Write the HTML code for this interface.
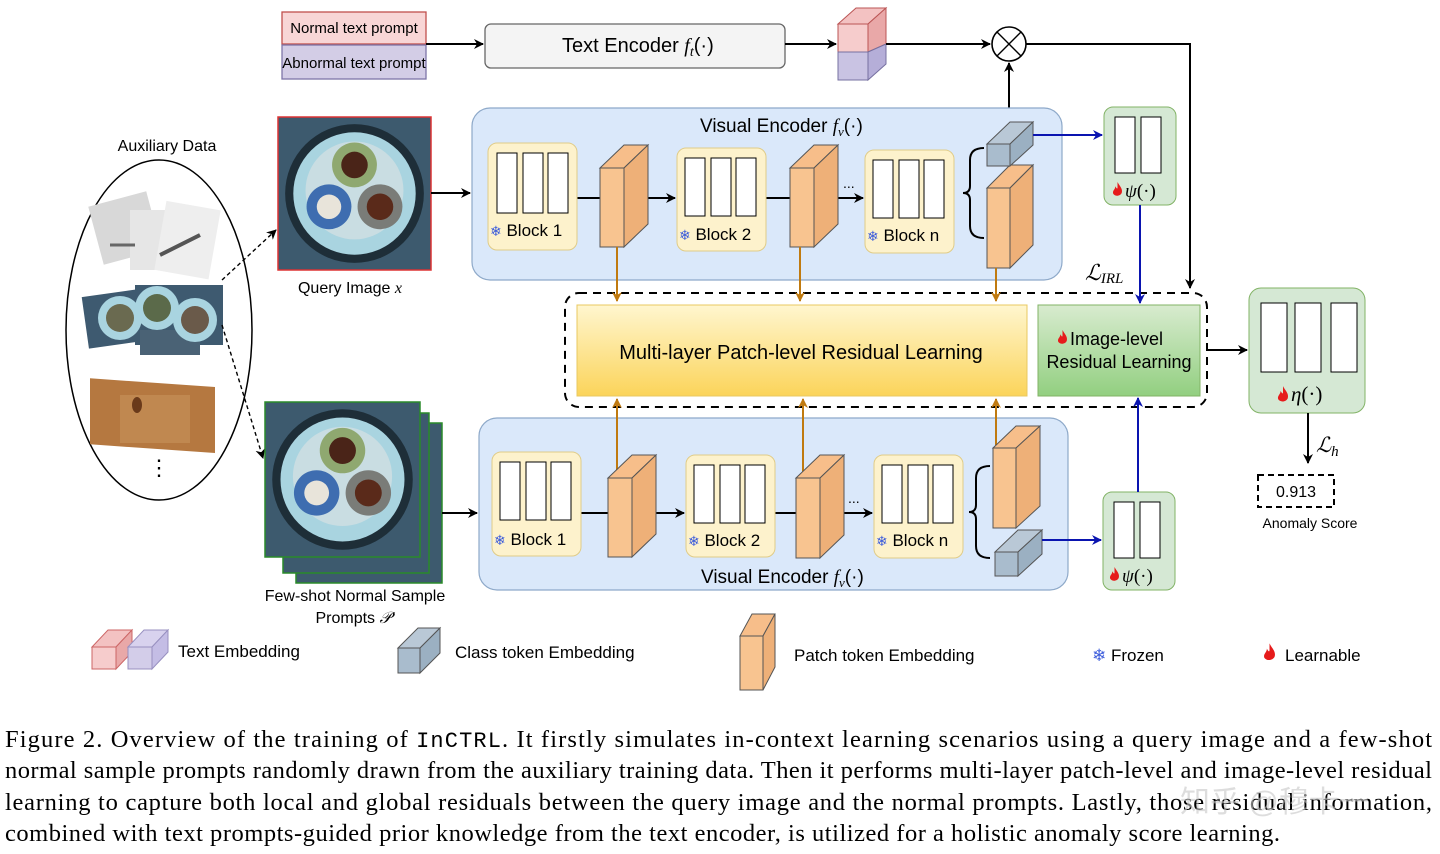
<!DOCTYPE html>
<html><head><meta charset="utf-8"><style>
html,body{margin:0;padding:0;background:#fff;width:1440px;height:854px;overflow:hidden}
svg text{font-family:"Liberation Sans",sans-serif}
.s{font-family:"Liberation Serif",serif;font-style:italic}
</style></head><body>
<svg width="1440" height="854" viewBox="0 0 1440 854" xmlns="http://www.w3.org/2000/svg">
<defs>
<marker id="ak" markerWidth="10" markerHeight="10" refX="9" refY="5" orient="auto" markerUnits="userSpaceOnUse"><path d="M0,0 L10,5 L0,10 L3,5 z" fill="#000"/></marker>
<marker id="ab" markerWidth="10" markerHeight="10" refX="9" refY="5" orient="auto" markerUnits="userSpaceOnUse"><path d="M0,0 L10,5 L0,10 L3,5 z" fill="#0a14b0"/></marker>
<marker id="ao" markerWidth="10" markerHeight="10" refX="9" refY="5" orient="auto" markerUnits="userSpaceOnUse"><path d="M0,0 L10,5 L0,10 L3,5 z" fill="#c07a10"/></marker>
<linearGradient id="gy" x1="0" y1="0" x2="0" y2="1"><stop offset="0" stop-color="#fff6cf"/><stop offset="1" stop-color="#fbd45a"/></linearGradient>
<linearGradient id="gg" x1="0" y1="0" x2="0" y2="1"><stop offset="0" stop-color="#d8ebcf"/><stop offset="1" stop-color="#92cf80"/></linearGradient>
<symbol id="cab" viewBox="0 0 150 150">
<rect width="150" height="150" fill="#3d5a6e"/>
<circle cx="75" cy="75" r="68" fill="#1e2e38"/>
<circle cx="75" cy="75" r="60" fill="#a9d4e0"/>
<circle cx="75" cy="72" r="48" fill="#c9dde2"/>
<circle cx="75" cy="47" r="22" fill="#8fa870"/><circle cx="75" cy="47" r="13" fill="#4a2418"/>
<circle cx="50" cy="88" r="22" fill="#3e6db0"/><circle cx="50" cy="88" r="12" fill="#e8e4da"/>
<circle cx="100" cy="88" r="22" fill="#7a7c78"/><circle cx="100" cy="88" r="13" fill="#5a2a1a"/>
</symbol>
<symbol id="fl" viewBox="0 0 10 14"><path d="M5,0 C7,4 10,6 9,10 C8,13 3,14 1,11 C0,8 3,7 3,4 C4,6 5,7 5,5 C5,3 5,2 5,0z" fill="#e61b1b"/></symbol>
</defs>

<!-- prompts -->
<rect x="282" y="12" width="144" height="32" fill="#f8d6d6" stroke="#c0504d" stroke-width="1.3"/>
<rect x="282" y="45" width="144" height="34" fill="#d3cde6" stroke="#7e76a8" stroke-width="1.3"/>
<text x="354" y="33" font-size="15" text-anchor="middle">Normal text prompt</text>
<text x="354" y="68" font-size="15" text-anchor="middle">Abnormal text prompt</text>
<line x1="426" y1="44" x2="483" y2="44" stroke="#000" stroke-width="2" marker-end="url(#ak)"/>
<rect x="485" y="24" width="300" height="44" rx="6" fill="#f4f4f4" stroke="#666" stroke-width="1.3"/>
<text x="562" y="52" font-size="20">Text Encoder <tspan class="s">f</tspan><tspan class="s" font-size="14" dy="4">t</tspan><tspan dy="-4">(·)</tspan></text>
<line x1="785" y1="44" x2="836" y2="44" stroke="#000" stroke-width="2" marker-end="url(#ak)"/>
<path d="M838,24 L856,8 L886,8 L868,24z" fill="#f3c2c2" stroke="#b55" stroke-width="1"/>
<path d="M868,24 L886,8 L886,44 L868,52z" fill="#e9a8a8" stroke="#b55" stroke-width="1"/>
<rect x="838" y="24" width="30" height="28" fill="#f6cccc" stroke="#b55" stroke-width="1"/>
<rect x="838" y="52" width="30" height="28" fill="#c9c3e3" stroke="#7670a0" stroke-width="1"/>
<path d="M868,52 L886,44 L886,64 L868,80z" fill="#b5aed8" stroke="#7670a0" stroke-width="1"/>
<line x1="886" y1="44" x2="990" y2="44" stroke="#000" stroke-width="2" marker-end="url(#ak)"/>
<circle cx="1009" cy="44" r="17" fill="#fff" stroke="#000" stroke-width="1.6"/>
<path d="M997,32 L1021,56 M1021,32 L997,56" stroke="#000" stroke-width="1.4"/>
<polyline points="1026,44 1190,44 1190,288" fill="none" stroke="#000" stroke-width="2" marker-end="url(#ak)"/>
<line x1="1009" y1="122" x2="1009" y2="63" stroke="#000" stroke-width="2" marker-end="url(#ak)"/>

<!-- left -->
<text x="167" y="151" font-size="16" text-anchor="middle">Auxiliary Data</text>
<ellipse cx="159" cy="330" rx="93" ry="170" fill="none" stroke="#000" stroke-width="1.5"/>
<g>
<rect x="95" y="198" width="60" height="60" fill="#d8d8d8" transform="rotate(-15 125 228)"/>
<rect x="130" y="210" width="55" height="60" fill="#e6e6e6"/>
<rect x="160" y="205" width="55" height="70" fill="#eeeeee" transform="rotate(10 187 240)"/>
<line x1="160" y1="255" x2="200" y2="235" stroke="#555" stroke-width="4"/>
<line x1="110" y1="245" x2="135" y2="245" stroke="#666" stroke-width="3"/>
</g>
<g>
<rect x="85" y="292" width="70" height="52" fill="#3e5a70" transform="rotate(-8 120 318)"/>
<rect x="135" y="285" width="88" height="60" fill="#3e5a70"/>
<rect x="140" y="330" width="60" height="25" fill="#4a6275"/>
<circle cx="120" cy="318" r="22" fill="#a9d4e0"/><circle cx="157" cy="308" r="22" fill="#a9d4e0"/><circle cx="195" cy="320" r="22" fill="#a9d4e0"/>
<circle cx="157" cy="308" r="14" fill="#5b6a4a"/><circle cx="195" cy="320" r="14" fill="#6a5a4a"/><circle cx="120" cy="318" r="14" fill="#6a6a50"/>
</g>
<g>
<rect x="90" y="372" width="125" height="66" fill="#b57840" transform="skewY(4)"/>
<rect x="120" y="395" width="70" height="48" fill="#c08850"/>
<ellipse cx="137" cy="405" rx="5" ry="8" fill="#6a3a1a"/>
</g>
<text x="159" y="475" font-size="22" text-anchor="middle">⋮</text>
<line x1="222" y1="280" x2="276" y2="230" stroke="#000" stroke-width="1.4" stroke-dasharray="4,3" marker-end="url(#ak)"/>
<line x1="222" y1="325" x2="263" y2="458" stroke="#000" stroke-width="1.4" stroke-dasharray="4,3" marker-end="url(#ak)"/>

<svg x="278" y="117" width="153" height="153"><use href="#cab" width="153" height="153"/></svg>
<rect x="278" y="117" width="153" height="153" fill="none" stroke="#d33" stroke-width="1.5"/>
<text x="350" y="293" font-size="16" text-anchor="middle">Query Image <tspan class="s">x</tspan></text>

<rect x="296" y="423" width="146" height="160" fill="#3d5a6e" stroke="#2a8a2a" stroke-width="1.5"/>
<rect x="283" y="413" width="146" height="160" fill="#3d5a6e" stroke="#2a8a2a" stroke-width="1.5"/>
<svg x="265" y="402" width="155" height="155"><use href="#cab" width="155" height="155"/></svg>
<rect x="265" y="402" width="155" height="155" fill="none" stroke="#2a8a2a" stroke-width="1.5"/>
<text x="355" y="601" font-size="16" text-anchor="middle">Few-shot Normal Sample</text>
<text x="355" y="623" font-size="16" text-anchor="middle">Prompts <tspan class="s">𝒫′</tspan></text>
<line x1="431" y1="193" x2="470" y2="193" stroke="#000" stroke-width="2" marker-end="url(#ak)"/>
<line x1="442" y1="513" x2="477" y2="513" stroke="#000" stroke-width="2" marker-end="url(#ak)"/>

<!-- top encoder -->
<rect x="472" y="108" width="590" height="172" rx="18" fill="#dae8fa" stroke="#8ea9c9" stroke-width="1.2"/>
<!-- bottom encoder bg -->
<rect x="479" y="418" width="589" height="172" rx="18" fill="#dae8fa" stroke="#8ea9c9" stroke-width="1.2"/>
<text x="700" y="132" font-size="19">Visual Encoder <tspan class="s">f</tspan><tspan class="s" font-size="13" dy="4">v</tspan><tspan dy="-4">(·)</tspan></text>
<g stroke="#000" stroke-width="2" fill="none">
<line x1="577" y1="198" x2="600" y2="198"/><line x1="648" y1="198" x2="675" y2="198" marker-end="url(#ak)"/>
<line x1="766" y1="198" x2="790" y2="198"/><line x1="837" y1="198" x2="863" y2="198" marker-end="url(#ak)"/>
<line x1="581" y1="513" x2="608" y2="513"/><line x1="655" y1="513" x2="684" y2="513" marker-end="url(#ak)"/>
<line x1="775" y1="513" x2="796" y2="513"/><line x1="843" y1="513" x2="872" y2="513" marker-end="url(#ak)"/>
</g>
<text x="843" y="188" font-size="14">...</text>
<text x="848" y="503" font-size="14">...</text>

<g font-size="17">
<rect x="488" y="143" width="89" height="107" rx="9" fill="#fdf2cc" stroke="#e0cc88"/>
<rect x="497" y="153" width="20" height="60" fill="#fff" stroke="#000"/><rect x="523" y="153" width="20" height="60" fill="#fff" stroke="#000"/><rect x="548" y="153" width="20" height="60" fill="#fff" stroke="#000"/>
<text x="490" y="236"><tspan fill="#3b5bdb" font-size="14">❄</tspan> Block 1</text>
<rect x="677" y="148" width="89" height="103" rx="9" fill="#fdf2cc" stroke="#e0cc88"/>
<rect x="685" y="158" width="20" height="58" fill="#fff" stroke="#000"/><rect x="711" y="158" width="20" height="58" fill="#fff" stroke="#000"/><rect x="736" y="158" width="20" height="58" fill="#fff" stroke="#000"/>
<text x="679" y="240"><tspan fill="#3b5bdb" font-size="14">❄</tspan> Block 2</text>
<rect x="865" y="150" width="89" height="103" rx="9" fill="#fdf2cc" stroke="#e0cc88"/>
<rect x="873" y="160" width="20" height="58" fill="#fff" stroke="#000"/><rect x="899" y="160" width="20" height="58" fill="#fff" stroke="#000"/><rect x="924" y="160" width="20" height="58" fill="#fff" stroke="#000"/>
<text x="867" y="241"><tspan fill="#3b5bdb" font-size="14">❄</tspan> Block n</text>
</g>
<g stroke="#555" stroke-width="1">
<path d="M600,168 L624,145 L648,145 L624,168z" fill="#f7be8a"/><path d="M624,168 L648,145 L648,224 L624,247z" fill="#eeb078"/><rect x="600" y="168" width="24" height="79" fill="#f8c490"/>
<path d="M790,168 L814,145 L838,145 L814,168z" fill="#f7be8a"/><path d="M814,168 L838,145 L838,224 L814,247z" fill="#eeb078"/><rect x="790" y="168" width="24" height="79" fill="#f8c490"/>
<path d="M987,188 L1010,165 L1033,165 L1010,188z" fill="#f7be8a"/><path d="M1010,188 L1033,165 L1033,245 L1010,268z" fill="#eeb078"/><rect x="987" y="188" width="23" height="80" fill="#f8c490"/>
<path d="M987,144 L1010,122 L1033,122 L1010,144z" fill="#b9c8d6"/><path d="M1010,144 L1033,122 L1033,145 L1010,166z" fill="#9bb0c2"/><rect x="987" y="144" width="23" height="22" fill="#a9bccd"/>
</g>
<path d="M984,148 Q970,148 970,160 L970,186 Q970,193 963,193 Q970,193 970,200 L970,226 Q970,238 984,238" fill="none" stroke="#000" stroke-width="2"/>
<line x1="1033" y1="135" x2="1102" y2="135" stroke="#0a14b0" stroke-width="2" marker-end="url(#ab)"/>

<!-- center -->
<rect x="565" y="293" width="642" height="114" rx="14" fill="none" stroke="#000" stroke-width="2" stroke-dasharray="8,6"/>
<rect x="577" y="305" width="450" height="91" fill="url(#gy)" stroke="#e8c860"/>
<text x="801" y="359" font-size="20" text-anchor="middle">Multi-layer Patch-level Residual Learning</text>
<rect x="1038" y="305" width="162" height="91" fill="url(#gg)" stroke="#82b366"/>
<use href="#fl" x="1057" y="330" width="11" height="15"/>
<text x="1070" y="345" font-size="18">Image-level</text>
<text x="1119" y="368" font-size="18" text-anchor="middle">Residual Learning</text>
<g stroke="#c07a10" stroke-width="2">
<line x1="617" y1="247" x2="617" y2="301" marker-end="url(#ao)"/>
<line x1="800" y1="247" x2="800" y2="301" marker-end="url(#ao)"/>
<line x1="996" y1="268" x2="996" y2="301" marker-end="url(#ao)"/>
<line x1="617" y1="478" x2="617" y2="399" marker-end="url(#ao)"/>
<line x1="803" y1="478" x2="803" y2="399" marker-end="url(#ao)"/>
<line x1="996" y1="445" x2="996" y2="399" marker-end="url(#ao)"/>
</g>

<!-- bottom encoder -->
<text x="701" y="583" font-size="19">Visual Encoder <tspan class="s">f</tspan><tspan class="s" font-size="13" dy="4">v</tspan><tspan dy="-4">(·)</tspan></text>
<g font-size="17">
<rect x="492" y="452" width="89" height="104" rx="9" fill="#fdf2cc" stroke="#e0cc88"/>
<rect x="500" y="462" width="20" height="58" fill="#fff" stroke="#000"/><rect x="526" y="462" width="20" height="58" fill="#fff" stroke="#000"/><rect x="551" y="462" width="20" height="58" fill="#fff" stroke="#000"/>
<text x="494" y="545"><tspan fill="#3b5bdb" font-size="14">❄</tspan> Block 1</text>
<rect x="686" y="455" width="89" height="102" rx="9" fill="#fdf2cc" stroke="#e0cc88"/>
<rect x="694" y="465" width="20" height="58" fill="#fff" stroke="#000"/><rect x="720" y="465" width="20" height="58" fill="#fff" stroke="#000"/><rect x="745" y="465" width="20" height="58" fill="#fff" stroke="#000"/>
<text x="688" y="546"><tspan fill="#3b5bdb" font-size="14">❄</tspan> Block 2</text>
<rect x="874" y="455" width="89" height="103" rx="9" fill="#fdf2cc" stroke="#e0cc88"/>
<rect x="882" y="465" width="20" height="58" fill="#fff" stroke="#000"/><rect x="908" y="465" width="20" height="58" fill="#fff" stroke="#000"/><rect x="933" y="465" width="20" height="58" fill="#fff" stroke="#000"/>
<text x="876" y="546"><tspan fill="#3b5bdb" font-size="14">❄</tspan> Block n</text>
</g>
<g stroke="#555" stroke-width="1">
<path d="M608,478 L632,455 L656,455 L632,478z" fill="#f7be8a"/><path d="M632,478 L656,455 L656,534 L632,557z" fill="#eeb078"/><rect x="608" y="478" width="24" height="79" fill="#f8c490"/>
<path d="M796,478 L820,455 L844,455 L820,478z" fill="#f7be8a"/><path d="M820,478 L844,455 L844,535 L820,558z" fill="#eeb078"/><rect x="796" y="478" width="24" height="80" fill="#f8c490"/>
<path d="M993,448 L1016,426 L1040,426 L1016,448z" fill="#f7be8a"/><path d="M1016,448 L1040,426 L1040,506 L1016,528z" fill="#eeb078"/><rect x="993" y="448" width="23" height="80" fill="#f8c490"/>
<path d="M995,552 L1018,530 L1042,530 L1018,552z" fill="#b9c8d6"/><path d="M1018,552 L1042,530 L1042,554 L1018,576z" fill="#9bb0c2"/><rect x="995" y="552" width="23" height="24" fill="#a9bccd"/>
</g>
<path d="M990,466 Q976,466 976,478 L976,505 Q976,512 969,512 Q976,512 976,519 L976,546 Q976,558 990,558" fill="none" stroke="#000" stroke-width="2"/>
<line x1="1042" y1="540" x2="1101" y2="540" stroke="#0a14b0" stroke-width="2" marker-end="url(#ab)"/>

<!-- psi -->
<rect x="1104" y="107" width="72" height="98" rx="9" fill="#d5e8d4" stroke="#82b366"/>
<rect x="1115" y="117" width="20" height="56" fill="#fff" stroke="#000"/><rect x="1141" y="117" width="20" height="56" fill="#fff" stroke="#000"/>
<use href="#fl" x="1112" y="182" width="11" height="15"/>
<text x="1125" y="197" font-size="19" class="s">ψ<tspan font-style="normal">(·)</tspan></text>
<rect x="1103" y="492" width="72" height="98" rx="9" fill="#d5e8d4" stroke="#82b366"/>
<rect x="1114" y="502" width="20" height="56" fill="#fff" stroke="#000"/><rect x="1140" y="502" width="20" height="56" fill="#fff" stroke="#000"/>
<use href="#fl" x="1109" y="567" width="11" height="15"/>
<text x="1122" y="582" font-size="19" class="s">ψ<tspan font-style="normal">(·)</tspan></text>
<line x1="1140" y1="205" x2="1140" y2="303" stroke="#0a14b0" stroke-width="2" marker-end="url(#ab)"/>
<line x1="1138" y1="492" x2="1138" y2="398" stroke="#0a14b0" stroke-width="2" marker-end="url(#ab)"/>
<text x="1085" y="280" font-size="22" class="s">ℒ<tspan font-size="15" dy="3">IRL</tspan></text>

<!-- eta -->
<line x1="1207" y1="350" x2="1247" y2="350" stroke="#000" stroke-width="2" marker-end="url(#ak)"/>
<rect x="1249" y="288" width="116" height="125" rx="12" fill="#d5e8d4" stroke="#82b366"/>
<rect x="1261" y="303" width="26" height="69" fill="#fff" stroke="#000"/><rect x="1295" y="303" width="26" height="69" fill="#fff" stroke="#000"/><rect x="1331" y="303" width="26" height="69" fill="#fff" stroke="#000"/>
<use href="#fl" x="1277" y="386" width="12" height="17"/>
<text x="1291" y="401" font-size="21" class="s">η<tspan font-style="normal">(·)</tspan></text>
<line x1="1308" y1="413" x2="1308" y2="463" stroke="#000" stroke-width="2" marker-end="url(#ak)"/>
<text x="1316" y="452" font-size="21" class="s">ℒ<tspan font-size="15" dy="4">h</tspan></text>
<rect x="1258" y="475" width="76" height="32" fill="none" stroke="#000" stroke-width="2" stroke-dasharray="6,4"/>
<text x="1296" y="497" font-size="16" text-anchor="middle">0.913</text>
<text x="1310" y="528" font-size="14" text-anchor="middle">Anomaly Score</text>

<!-- legend -->
<g stroke-width="1">
<path d="M92,647 L108,630 L132,630 L116,647z" fill="#f3c2c2" stroke="#c66"/><path d="M116,647 L132,630 L132,652 L116,669z" fill="#e9a8a8" stroke="#c66"/><rect x="92" y="647" width="24" height="22" fill="#f6cccc" stroke="#c66"/>
<path d="M128,647 L144,630 L168,630 L152,647z" fill="#d8d2ee" stroke="#9890c0"/><path d="M152,647 L168,630 L168,652 L152,669z" fill="#c4bde5" stroke="#9890c0"/><rect x="128" y="647" width="24" height="22" fill="#d3cde9" stroke="#9890c0"/>
<path d="M398,648 L418,628 L440,628 L420,648z" fill="#b9c8d6" stroke="#555"/><path d="M420,648 L440,628 L440,653 L420,673z" fill="#9bb0c2" stroke="#555"/><rect x="398" y="648" width="22" height="25" fill="#a9bccd" stroke="#555"/>
<path d="M740,636 L752,614 L775,614 L763,636z" fill="#f7be8a" stroke="#555"/><path d="M763,636 L775,614 L775,667 L763,690z" fill="#eeb078" stroke="#555"/><rect x="740" y="636" width="23" height="54" fill="#f8c490" stroke="#555"/>
</g>
<text x="178" y="657" font-size="17">Text Embedding</text>
<text x="455" y="658" font-size="17">Class token Embedding</text>
<text x="794" y="661" font-size="17">Patch token Embedding</text>
<text x="1092" y="661" font-size="17"><tspan fill="#3b5bdb">❄</tspan> Frozen</text>
<use href="#fl" x="1263" y="643" width="13" height="19"/>
<text x="1285" y="661" font-size="17">Learnable</text>

<!-- caption -->
<g font-size="24.5" fill="#000">
<text x="5" y="747" textLength="1427" lengthAdjust="spacing" style="font-family:'Liberation Serif',serif">Figure 2.  Overview of the training of <tspan style="font-family:'Liberation Mono',monospace" font-size="22">InCTRL</tspan>. It firstly simulates in-context learning scenarios using a query image and a few-shot</text>
<text x="5" y="778" textLength="1427" lengthAdjust="spacing" style="font-family:'Liberation Serif',serif">normal sample prompts randomly drawn from the auxiliary training data. Then it performs multi-layer patch-level and image-level residual</text>
<text x="5" y="810" textLength="1427" lengthAdjust="spacing" style="font-family:'Liberation Serif',serif">learning to capture both local and global residuals between the query image and the normal prompts. Lastly, those residual information,</text>
<text x="5" y="841" textLength="1275" lengthAdjust="spacing" style="font-family:'Liberation Serif',serif">combined with text prompts-guided prior knowledge from the text encoder, is utilized for a holistic anomaly score learning.</text>
</g>
<text x="1180" y="812" font-size="30" fill="#c8c8c8" opacity="0.6" style="font-family:'Liberation Sans','Noto Sans CJK SC',sans-serif">知乎 @穆卡一</text>
</svg>
</body></html>
